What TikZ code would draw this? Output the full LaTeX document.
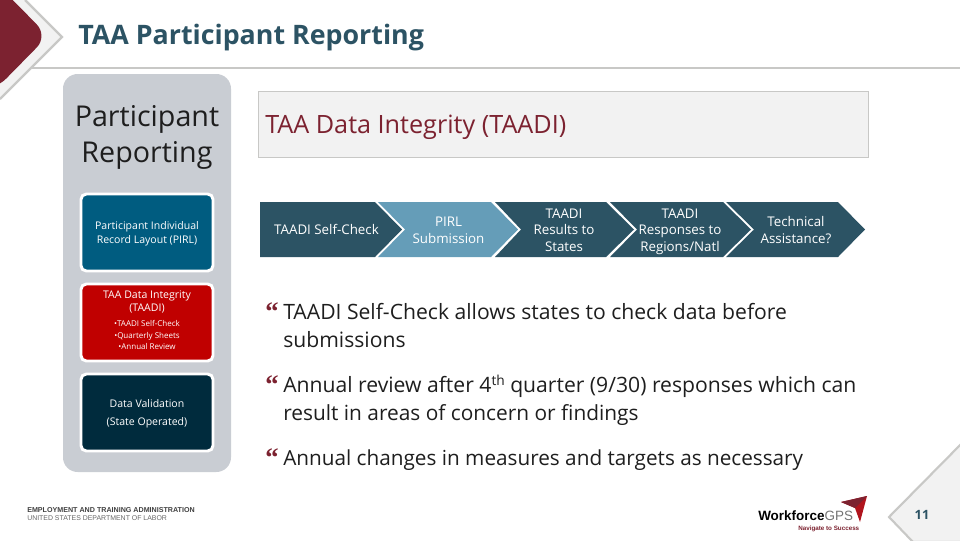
\documentclass[tikz,border=0pt]{standalone}
\usepackage{fontspec}
\setmainfont{Open Sans}
\newfontfamily\arimo{Liberation Sans}
\newfontfamily\timesb{Liberation Serif}
\definecolor{teal}{HTML}{2C5364}
\definecolor{lteal}{HTML}{659DB8}
\definecolor{wine}{HTML}{7C2230}
\definecolor{panel}{HTML}{C9CDD3}
\definecolor{rulegray}{HTML}{C8C8C6}
\definecolor{pale}{HTML}{F2F2F2}
\definecolor{boxa}{HTML}{005C80}
\definecolor{boxb}{HTML}{C00000}
\definecolor{boxc}{HTML}{002B3D}
\definecolor{ink}{HTML}{1E1E1E}
\tikzset{
 x=0.75pt,y=-0.75pt,
 sidebox/.style={draw=white,line width=2.2pt,rounded corners=4pt},
 chev/.style={fill=#1,draw=none},
 chevtext/.style={text=white,align=center,font=\fontsize{10}{12.4}\selectfont,inner sep=0pt},
 sidetext/.style={text=white,align=center,inner sep=0pt},
 bodytext/.style={text=ink,anchor=base west,inner sep=0pt,font=\fontsize{15.85}{21}\selectfont},
 bulletmark/.style={text=wine,anchor=base west,inner sep=0pt,font=\timesb\fontsize{20}{20}\selectfont\bfseries},
}
\begin{document}
\begin{tikzpicture}
\useasboundingbox (0,0) rectangle (960,540);
% corner decorations
\fill[pale] (0,0) -- (0,-1) -- (26,-1) -- (62,37) -- (0,99) -- cycle;
\draw[rulegray,line width=1.6pt] (25,0) -- (62,37) -- (0,99);
\draw[rulegray,line width=1.9pt] (30,68) -- (960,68);
\fill[wine,rounded corners=12pt] (-30,-30) -- (-22,-30) -- (8,-5) -- (48,36) -- (-5,90) -- (-30,90) -- cycle;
\fill[pale,draw=rulegray,line width=1.6pt] (970,435) -- (889,517) -- (913,542) -- (970,542) -- cycle;
% title
\node[anchor=base west,inner sep=0pt,text=teal,font=\fontsize{20.1}{25}\selectfont\bfseries] (title) at (78,44) {TAA Participant Reporting};
% left panel
\fill[panel,rounded corners=11pt] (63,74) rectangle (231,472);
\node[anchor=center,align=center,inner sep=0pt,text=ink,font=\fontsize{21.5}{26.6}\selectfont] (ptitle) at (147,137.5) {Participant\\Reporting};
\filldraw[sidebox,fill=boxa] (81,194) rectangle (213,271);
\filldraw[sidebox,fill=boxb] (81,284) rectangle (213,361);
\filldraw[sidebox,fill=boxc] (81,374) rectangle (213,451);
\node[sidetext,font=\fontsize{7.9}{10.2}\selectfont] (b1) at (147,234) {Participant Individual\\Record Layout (PIRL)};
\node[sidetext,font=\fontsize{7.9}{9.6}\selectfont] (b2) at (147,302) {TAA Data Integrity\\(TAADI)};
\node[sidetext,font=\fontsize{6}{8.6}\selectfont] (b2b) at (147,335) {•TAADI Self-Check\\•Quarterly Sheets\\•Annual Review};
\node[sidetext,font=\fontsize{7.9}{13.4}\selectfont] (b3) at (147,414) {Data Validation\\(State Operated)};
% integrity box
\node[draw=rulegray,fill=pale,line width=0.8pt,minimum width=609.5pt*0.75,minimum height=65.5pt*0.75,inner sep=0pt,anchor=north west] (tbox) at (258,91) {};
\node[anchor=base west,inner sep=0pt,text=wine,font=\fontsize{18.9}{22}\selectfont] (ttext) at (265,133) {TAA Data Integrity (TAADI)};
% chevrons
\fill[chev=teal] (260,202) -- (375,202) -- (402,229.5) -- (375,257) -- (260,257) -- cycle;
\fill[chev=lteal] (378,202) -- (491,202) -- (518,229.5) -- (491,257) -- (378,257) -- (405,229.5) -- cycle;
\fill[chev=teal] (495,202) -- (606,202) -- (634,229.5) -- (606,257) -- (495,257) -- (521,229.5) -- cycle;
\fill[chev=teal] (610,202) -- (723,202) -- (751,229.5) -- (723,257) -- (610,257) -- (637,229.5) -- cycle;
\fill[chev=teal] (726,202) -- (838,202) -- (865,229.5) -- (838,257) -- (726,257) -- (754,229.5) -- cycle;
\node[chevtext] (c1) at (326.5,229.5) {TAADI Self-Check};
\node[chevtext] (c2) at (448.5,230.5) {PIRL\\Submission};
\node[chevtext] (c3) at (564,230) {TAADI\\Results to\\States};
\node[chevtext] (c4) at (680,231.5) {TAADI\\Responses to\\Regions/Natl};
\node[chevtext] (c5) at (796,230) {Technical\\Assistance?};
% bullets
\node[bulletmark] (m1) at (265,320) {“};
\node[bodytext] (l1) at (283,319.5) {TAADI Self-Check allows states to check data before};
\node[bodytext] (l1b) at (283,347.5) {submissions};
\node[bulletmark] (m2) at (265,393) {“};
\node[bodytext] (l2) at (283,392.5) {Annual review after 4\raisebox{5.5pt}{\fontsize{10.3}{10}\selectfont th} quarter (9/30) responses which can};
\node[bodytext,font=\fontsize{15.65}{21}\selectfont] (l2b) at (283,420.5) {result in areas of concern or findings};
\node[bulletmark] (m3) at (265,466) {“};
\node[bodytext,font=\fontsize{15.55}{21}\selectfont] (l3) at (283,465.5) {Annual changes in measures and targets as necessary};
% footer
\node[anchor=base west,inner sep=0pt,text=black!75,font=\arimo\fontsize{5.35}{6}\selectfont\bfseries] (dol1) at (27,512) {EMPLOYMENT AND TRAINING ADMINISTRATION};
\node[anchor=base west,inner sep=0pt,text=black!60,font=\arimo\fontsize{5.2}{6}\selectfont] (dol2) at (27,520) {UNITED STATES DEPARTMENT OF LABOR};
\node[anchor=base west,inner sep=0pt,font=\arimo\fontsize{10.1}{12}\selectfont] (wf) at (758,520.5) {\textbf{Workforce}\textcolor{black!55}{GPS}};
\node[anchor=base west,inner sep=0pt,text=wine,font=\arimo\fontsize{4.7}{5}\selectfont\bfseries] (nav) at (798,530) {Navigate to Success};
\fill[wine!60!red] (841,502) -- (867,496) -- (860,522) -- (855,508) -- cycle;
\fill[wine] (841,502) -- (867,496) -- (855,508) -- cycle;
\node[inner sep=0pt,text=teal,font=\fontsize{9.6}{12}\selectfont\bfseries] (pg) at (922,514.5) {11};
\end{tikzpicture}
\end{document}
